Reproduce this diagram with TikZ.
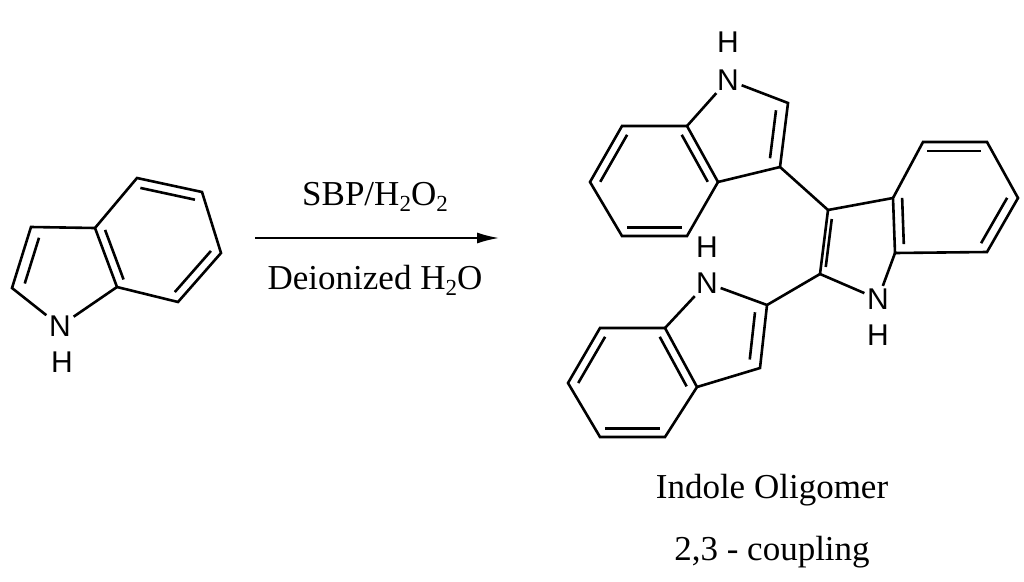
\documentclass[tikz,border=0pt]{standalone}
\usepackage{fontspec}
\setmainfont{Liberation Serif}
\newfontfamily\atomfont{Liberation Sans}
\usetikzlibrary{calc,arrows.meta}
\newcommand\dbl[4][0.16]{\draw ($(#2)!#1!(#4)$) -- ($(#3)!#1!(#4)$);}
\newcommand\sbs[1]{\raisebox{-6pt}{\fontsize{23}{23}\selectfont #1}}
\begin{document}
\begin{tikzpicture}[x=1pt,y=-1pt,line width=2.6pt,line join=miter,
  atom/.style={font=\atomfont\fontsize{30}{30}\selectfont,inner sep=1.5pt},
  lbl/.style={font=\fontsize{35}{38}\selectfont,inner sep=0pt}]
\useasboundingbox (0,0) rectangle (1024,581);
% left indole
\coordinate (a1) at (137,178); \coordinate (a2) at (202,192); \coordinate (a3) at (221,253);
\coordinate (a4) at (178,302); \coordinate (a7a) at (117,287); \coordinate (a3a) at (95,228);
\coordinate (a3c) at (31,227); \coordinate (a2c) at (12,288);
\node[atom] (aN) at (60,326) {N}; \node[atom] (aH) at (62,362) {H};
\coordinate (ab) at (158,240); \coordinate (ap) at (63,270);
\draw (a3a)--(a1)--(a2)--(a3)--(a4)--(a7a)--cycle;
\draw (a3a)--(a3c)--(a2c)--(aN)--(a7a);
\dbl{a1}{a2}{ab} \dbl{a3}{a4}{ab} \dbl{a7a}{a3a}{ab} \dbl[0.25]{a3c}{a2c}{ap}
% top indole
\node[atom] (tN) at (728,80) {N}; \node[atom] (tH) at (728,42) {H};
\coordinate (t2) at (788,103); \coordinate (t3) at (780,167); \coordinate (t3a) at (718,182);
\coordinate (t7a) at (687,126); \coordinate (t7) at (622,126); \coordinate (t6) at (590,182);
\coordinate (t5) at (622,236); \coordinate (t4) at (687,236);
\coordinate (tb) at (654,181); \coordinate (tp) at (740,132);
\draw (t7a)--(t7)--(t6)--(t5)--(t4)--(t3a)--cycle;
\draw (t3a)--(t3)--(t2)--(tN)--(t7a);
\dbl{t7}{t6}{tb} \dbl{t5}{t4}{tb} \dbl{t7a}{t3a}{tb} \dbl[0.25]{t2}{t3}{tp}
% middle indole
\coordinate (m3) at (828,210); \coordinate (m2) at (820,274);
\node[atom] (mN) at (878,299) {N}; \node[atom] (mH) at (878,335) {H};
\coordinate (m7a) at (895,253); \coordinate (m3a) at (893,198);
\coordinate (m4) at (923,142); \coordinate (m5) at (987,142); \coordinate (m6) at (1018,198);
\coordinate (m7) at (987,252);
\coordinate (mb) at (950,197); \coordinate (mp) at (843,246);
\draw (m3a)--(m4)--(m5)--(m6)--(m7)--(m7a)--cycle;
\draw (m3a)--(m3)--(m2)--(mN)--(m7a);
\dbl{m4}{m5}{mb} \dbl{m6}{m7}{mb} \dbl{m3a}{m7a}{mb} \dbl[0.25]{m3}{m2}{mp}
% bottom indole
\coordinate (b2) at (767,305); \node[atom] (bN) at (707,283) {N}; \node[atom] (bH) at (707,247) {H};
\coordinate (b3) at (760,368); \coordinate (b3a) at (697,387); \coordinate (b7a) at (665,328);
\coordinate (b7) at (600,328); \coordinate (b6) at (568,383); \coordinate (b5) at (600,437);
\coordinate (b4) at (665,437);
\coordinate (bb) at (632,383); \coordinate (bp) at (719,334);
\draw (b7a)--(b7)--(b6)--(b5)--(b4)--(b3a)--cycle;
\draw (b3a)--(b3)--(b2)--(bN)--(b7a);
\dbl{b7}{b6}{bb} \dbl{b5}{b4}{bb} \dbl{b7a}{b3a}{bb} \dbl[0.25]{b2}{b3}{bp}
% inter-ring bonds
\draw (t3)--(m3); \draw (m2)--(b2);
% arrow
\coordinate (ar1) at (255,238); \coordinate (ar2) at (499,238);
\draw[line width=1.8pt,-{Latex[length=22pt,width=11pt]}] (ar1)--(ar2);
\node[lbl] (cond1) at (375,197) {SBP/H\sbs{2}O\sbs{2}};
\node[lbl] (cond2) at (375,280) {Deionized H\sbs{2}O};
\node[lbl] (name) at (772,490) {Indole Oligomer};
\node[lbl] (type) at (772,552) {2,3 - coupling};
\end{tikzpicture}
\end{document}
